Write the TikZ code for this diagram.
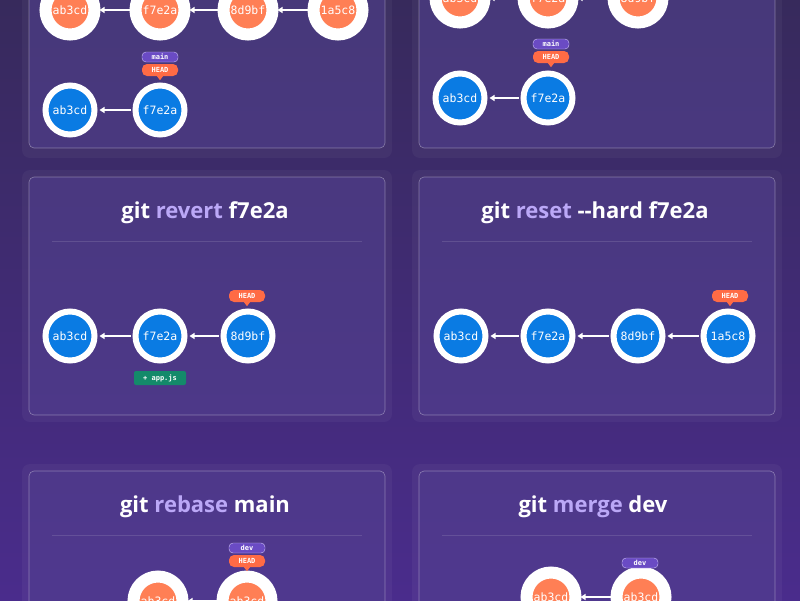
\documentclass[tikz,border=0pt]{standalone}
\usepackage{fontspec}
\setsansfont{Open Sans}
\setmonofont{DejaVu Sans Mono}
\usetikzlibrary{arrows.meta,calc}
\definecolor{bgtop}{HTML}{372A5C}
\definecolor{bgbot}{HTML}{4A2C8C}
\definecolor{cardc}{HTML}{4F3D8E}
\definecolor{orangec}{HTML}{FF7F55}
\definecolor{bluec}{HTML}{0A7BE3}
\definecolor{lav}{HTML}{BBA8F7}
\definecolor{pillp}{HTML}{6A4BC4}
\definecolor{headc}{HTML}{FF6B45}
\definecolor{greenc}{HTML}{148A6A}
\tikzset{
 x=1pt,y=-1pt,
 commit/.style={circle,minimum size=49pt,inner sep=0pt,draw=white,line width=6pt,text=white,font=\ttfamily\fontsize{11.5}{12}\selectfont},
 oc/.style={commit,fill=orangec,double=orangec!25,double distance=0pt},
 bc/.style={commit,fill=bluec},
 link/.style={white,line width=1.3pt,-{Triangle[length=5pt,width=6pt]},shorten >=2pt,shorten <=2pt},
 pill/.style={rounded corners=4pt,fill=pillp,draw=lav!70,line width=0.4pt,text=white,font=\ttfamily\bfseries\fontsize{7}{8}\selectfont,minimum width=36pt,minimum height=10pt,inner sep=1pt},
 headl/.style={rounded corners=5pt,fill=headc,text=white,font=\ttfamily\bfseries\fontsize{7}{8}\selectfont,minimum width=36pt,minimum height=12pt,inner sep=1pt},
 filel/.style={rounded corners=2pt,fill=greenc,text=white,font=\ttfamily\bfseries\fontsize{7}{8}\selectfont,minimum width=52pt,minimum height=14pt,inner sep=1pt},
 cardglow/.style={fill=white,fill opacity=0.04,rounded corners=8pt},
 card/.style={fill=cardc,fill opacity=0.55,draw=white,draw opacity=0.35,line width=0.6pt,rounded corners=5pt},
 ttl/.style={text=white,font=\sffamily\bfseries\fontsize{22}{26}\selectfont}
}
\newcommand{\headtag}[2]{\node[headl] (#1) at #2 {HEAD};\fill[headc] ($(#1.south)+(-3,0)$) -- ($(#1.south)+(3,0)$) -- ($(#1.south)+(0,4)$) -- cycle;}
\begin{document}
\begin{tikzpicture}
\useasboundingbox (0,0) rectangle (800,600);
\shade[top color=bgtop,bottom color=bgbot] (0,0) rectangle (800,600);
\foreach \x in {22,412}{
 \fill[cardglow] (\x,-20) rectangle ++(370,178);
 \draw[card] (\x+7,-20) rectangle ++(356,168);
 \fill[cardglow] (\x,170) rectangle ++(370,252);
 \draw[card] (\x+7,177) rectangle ++(356,238);
 \draw[white,opacity=0.12] (\x+30,241) -- ++(310,0);
 \fill[cardglow] (\x,464) rectangle ++(370,150);
 \draw[card] (\x+7,471) rectangle ++(356,150);
 \draw[white,opacity=0.12] (\x+30,535) -- ++(310,0);
}
% top-left
\node[oc] (a1) at (70,10) {ab3cd};
\node[oc] (a2) at (160,10) {f7e2a};
\node[oc] (a3) at (248,10) {8d9bf};
\node[oc] (a4) at (338,10) {1a5c8};
\draw[link] (a2) -- (a1); \draw[link] (a3) -- (a2); \draw[link] (a4) -- (a3);
\node[bc] (b1) at (70,110) {ab3cd};
\node[bc] (b2) at (160,110) {f7e2a};
\draw[link] (b2) -- (b1);
\node[pill] (m1) at (160,57) {main};
\headtag{h1}{(160,70)}
% top-right
\node[oc] (c1) at (460,-2) {ab3cd};
\node[oc] (c2) at (548,-2) {f7e2a};
\node[oc] (c3) at (638,-2) {8d9bf};
\draw[link] (c2) -- (c1); \draw[link] (c3) -- (c2);
\node[bc] (d1) at (460,98) {ab3cd};
\node[bc] (d2) at (548,98) {f7e2a};
\draw[link] (d2) -- (d1);
\node[pill] (m2) at (551,44) {main};
\headtag{h2}{(551,57)}
% middle-left
\node[ttl] (t1) at (205,213) {git \textcolor{lav}{revert} f7e2a};
\node[bc] (e1) at (70,336) {ab3cd};
\node[bc] (e2) at (160,336) {f7e2a};
\node[bc] (e3) at (248,336) {8d9bf};
\draw[link] (e2) -- (e1); \draw[link] (e3) -- (e2);
\headtag{h3}{(247,296)}
\node[filel] (f1) at (160,378) {+ app.js};
% middle-right
\node[ttl] (t2) at (595,213) {git \textcolor{lav}{reset} -{}-hard f7e2a};
\node[bc] (g1) at (461,336) {ab3cd};
\node[bc] (g2) at (548,336) {f7e2a};
\node[bc] (g3) at (638,336) {8d9bf};
\node[bc] (g4) at (728,336) {1a5c8};
\draw[link] (g2) -- (g1); \draw[link] (g3) -- (g2); \draw[link] (g4) -- (g3);
\headtag{h4}{(730,296)}
% bottom-left
\node[ttl] (t3) at (205,507) {git \textcolor{lav}{rebase} main};
\node[oc] (k1) at (158,601) {ab3cd};
\node[oc] (k2) at (247,601) {ab3cd};
\draw[link] (k2) -- (k1);
\node[pill] (m3) at (247,548) {dev};
\headtag{h5}{(247,561)}
% bottom-right
\node[ttl] (t4) at (593,507) {git \textcolor{lav}{merge} dev};
\node[oc] (n1) at (551,597) {ab3cd};
\node[oc] (n2) at (641,597) {ab3cd};
\draw[link] (n2) -- (n1);
\node[pill] (m4) at (640,563) {dev};
\end{tikzpicture}
\end{document}
